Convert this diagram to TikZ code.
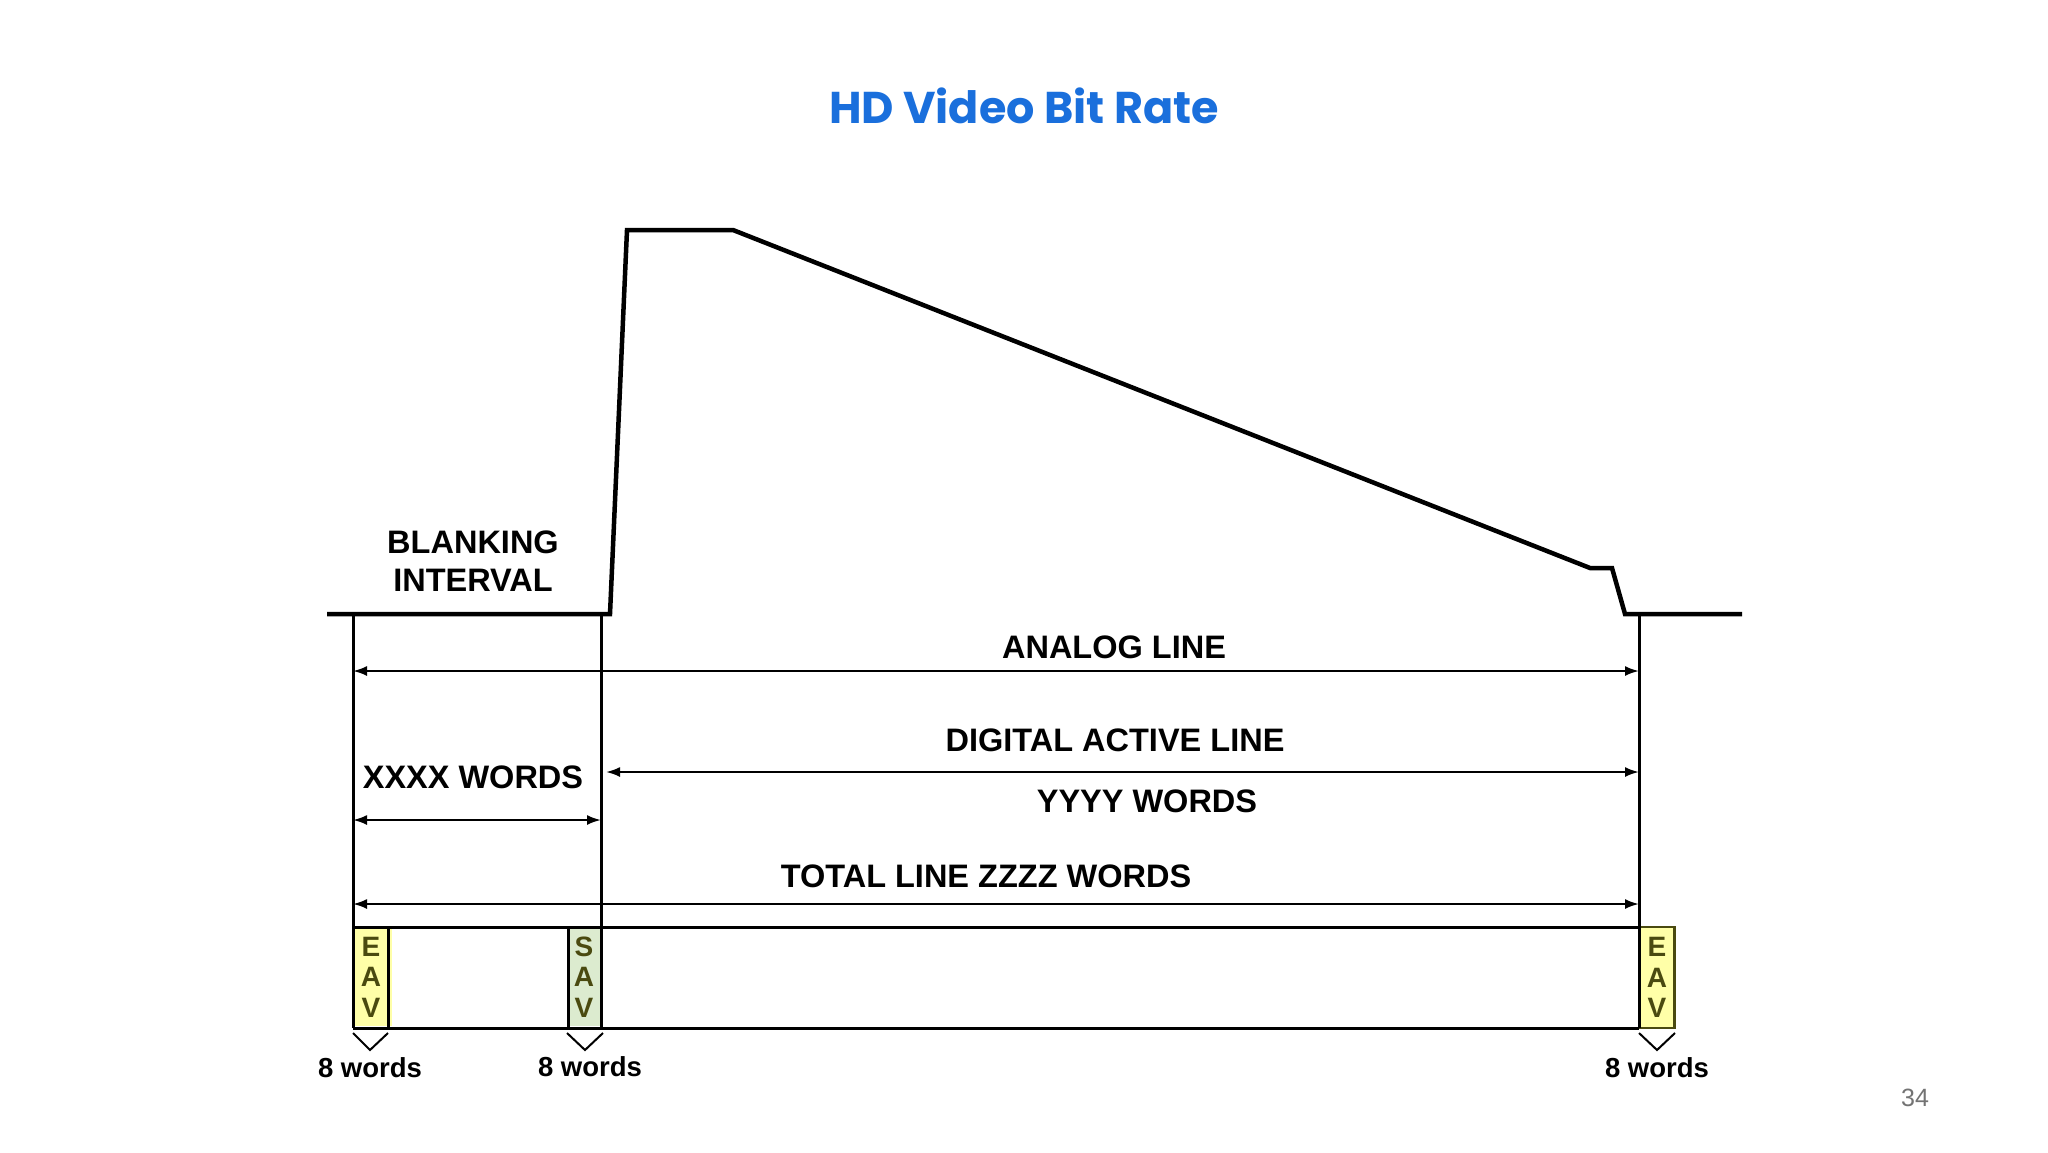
\documentclass[tikz,border=0pt]{standalone}
\usepackage{fontspec}
\setmainfont{Liberation Sans}
\newfontfamily\titlefont{Poppins}
\usetikzlibrary{arrows.meta}
\definecolor{titleblue}{HTML}{1A6FDC}
\definecolor{eavfill}{HTML}{FFFFA8}
\definecolor{savfill}{HTML}{DCEBCF}
\definecolor{olive}{HTML}{4A4A10}
\begin{document}
\begin{tikzpicture}[x=1pt,y=-1pt,
  wave/.style={line width=4.5pt,line join=miter},
  vline/.style={line width=3pt},
  dimarrow/.style={line width=2.2pt,{Latex[length=14pt,width=10pt]}-{Latex[length=14pt,width=10pt]}},
  lbl/.style={font=\fontsize{32.5}{38}\selectfont\bfseries,inner sep=0pt},
  wordlbl/.style={font=\fontsize{27.5}{32}\selectfont\bfseries,inner sep=0pt},
  avtext/.style={font=\fontsize{28}{30.5}\selectfont\bfseries,text=olive,align=center,inner sep=0pt},
  chev/.style={line width=2pt}]
\useasboundingbox (0,0) rectangle (2048,1152);
\fill[white] (0,0) rectangle (2048,1152);

% title
\node[font=\titlefont\fontsize{44.5}{50}\selectfont\bfseries,text=titleblue] (title) at (1024,106) {HD Video Bit Rate};
\node[font=\fontsize{25}{30}\selectfont,text=black!55] (page) at (1915,1098) {34};

% key coordinates
\coordinate (wL) at (327,614);
\coordinate (wR) at (1742,614);
\coordinate (xA) at (353,614);
\coordinate (xB) at (601,614);
\coordinate (xC) at (1639,614);

% fills for EAV/SAV
\fill[eavfill] (355,929) rectangle (392,1026);
\fill[savfill] (569,929) rectangle (601,1026);
\node[draw=olive,line width=2.5pt,fill=eavfill,minimum width=35pt,minimum height=101pt,inner sep=0pt] (eavR) at (1657,977.5) {};

% waveform
\draw[wave] (wL) -- (610,614) -- (627,230) -- (733,230) -- (1590,568) -- (1612,568) -- (1625,614) -- (wR);

% verticals and box
\draw[vline] (xA) -- (353,1028);
\draw[vline] (xB) -- (601,1028);
\draw[vline] (xC) -- (1639,1028);
\draw[vline] (353,927) -- (1639,927);
\draw[vline] (353,1028) -- (1639,1028);
\draw[vline] (388,927) -- (388,1028);
\draw[vline] (568,927) -- (568,1028);

% dimension arrows
\coordinate (a1) at (353,671); \coordinate (a2) at (1639,671);
\coordinate (d1) at (606,772); \coordinate (d2) at (1639,772);
\coordinate (x1) at (353,820); \coordinate (x2) at (601,820);
\coordinate (t1) at (353,904); \coordinate (t2) at (1639,904);
\draw[dimarrow] (a1) -- (a2);
\draw[dimarrow] (d1) -- (d2);
\draw[dimarrow] (x1) -- (x2);
\draw[dimarrow] (t1) -- (t2);

% labels
\node[lbl,align=center] (blank) at (473,561) {BLANKING\\INTERVAL};
\node[lbl] (analog) at (1114,647) {ANALOG LINE};
\node[lbl] (digital) at (1115,740) {DIGITAL ACTIVE LINE};
\node[lbl] (yyyy) at (1147,801) {YYYY WORDS};
\node[lbl] (xxxx) at (473,777) {XXXX WORDS};
\node[lbl] (total) at (986,876) {TOTAL LINE ZZZZ WORDS};

% EAV / SAV text
\node[avtext] (eavL) at (371,977) {E\\A\\V};
\node[avtext] (sav) at (584,977) {S\\A\\V};
\node[avtext] (eavRt) at (eavR) {E\\A\\V};

% chevrons
\draw[chev] (353,1033) -- (370,1050) -- (388,1033);
\draw[chev] (567,1033) -- (585,1050) -- (603,1033);
\draw[chev] (1639,1033) -- (1657,1050) -- (1675,1033);

% 8 words
\node[wordlbl] (w1) at (370,1068) {8 words};
\node[wordlbl] (w2) at (590,1067) {8 words};
\node[wordlbl] (w3) at (1657,1068) {8 words};
\end{tikzpicture}
\end{document}
